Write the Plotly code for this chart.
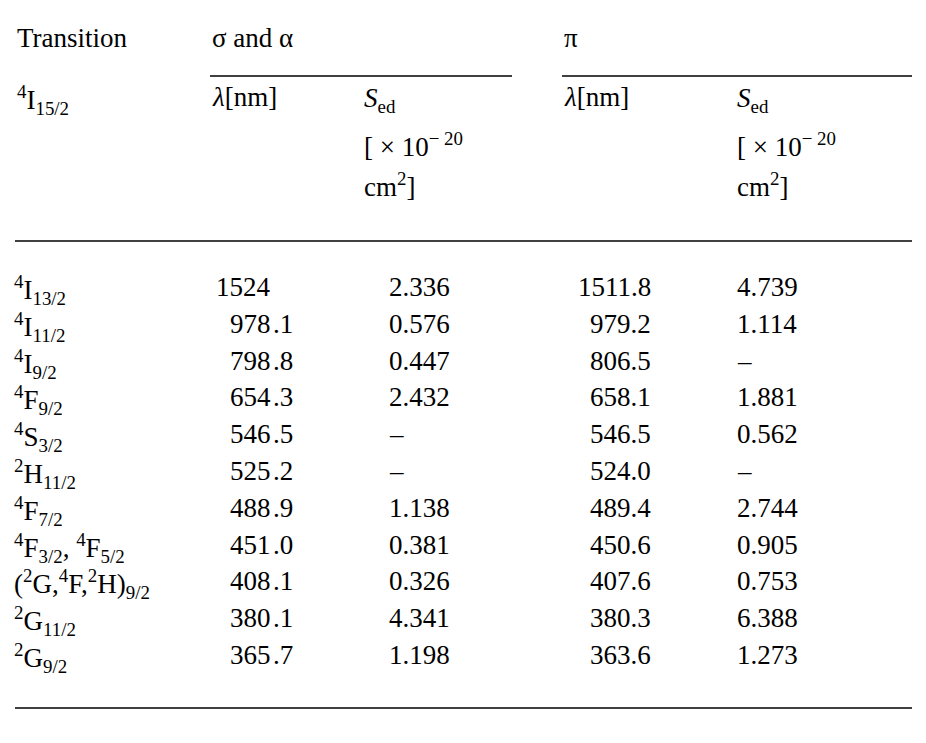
import plotly.graph_objects as go

transitions = [
    '<sup>4</sup>I<sub>13/2</sub>', '<sup>4</sup>I<sub>11/2</sub>', '<sup>4</sup>I<sub>9/2</sub>',
    '<sup>4</sup>F<sub>9/2</sub>', '<sup>4</sup>S<sub>3/2</sub>', '<sup>2</sup>H<sub>11/2</sub>',
    '<sup>4</sup>F<sub>7/2</sub>', '<sup>4</sup>F<sub>3/2</sub>, <sup>4</sup>F<sub>5/2</sub>',
    '(<sup>2</sup>G,<sup>4</sup>F,<sup>2</sup>H)<sub>9/2</sub>',
    '<sup>2</sup>G<sub>11/2</sub>', '<sup>2</sup>G<sub>9/2</sub>',
]
lam_sigma = ['1524', '978.1', '798.8', '654.3', '546.5', '525.2', '488.9', '451.0', '408.1', '380.1', '365.7']
sed_sigma = ['2.336', '0.576', '0.447', '2.432', '–', '–', '1.138', '0.381', '0.326', '4.341', '1.198']
lam_pi = ['1511.8', '979.2', '806.5', '658.1', '546.5', '524.0', '489.4', '450.6', '407.6', '380.3', '363.6']
sed_pi = ['4.739', '1.114', '–', '1.881', '0.562', '–', '2.744', '0.905', '0.753', '6.388', '1.273']

FONT = dict(family='Liberation Serif', size=27, color='black')
ann = []


def txt(x, y, s, anchor='left', **kw):
    ann.append(dict(x=x, y=y, text=s, xref='x', yref='y', showarrow=False,
                    xanchor=anchor, yanchor='middle', font=FONT, **kw))


# header
txt(15, 38, 'Transition')
txt(210, 38, 'σ and α')
txt(562, 38, 'π')
txt(15, 100, '<sup>4</sup>I<sub>15/2</sub>')
for x in (210, 562):
    txt(x, 97, '<i>λ</i>[nm]')
for x in (362, 735):
    txt(x, 100, '<i>S</i><sub>ed</sub>')
    txt(x, 145, '[ × 10<sup>− 20</sup>')
    txt(x, 185, 'cm<sup>2</sup>]')

# body
y0, dy = 287, 36.8
for i in range(len(transitions)):
    y = y0 + i * dy
    txt(12, y + 3, transitions[i])
    ip, _, fp = lam_sigma[i].partition('.')
    txt(273, y, ip, anchor='right')
    if fp:
        txt(271, y, '.' + fp)
    txt(387, y, sed_sigma[i])
    txt(653, y, lam_pi[i], anchor='right')
    txt(735, y, sed_pi[i])

lines = [(210, 512, 76), (562, 912, 76), (15, 912, 241), (15, 912, 708)]
shapes = [dict(type='line', xref='x', yref='y', x0=a, x1=b, y0=y, y1=y,
               line=dict(color='black', width=1.6)) for a, b, y in lines]

fig = go.Figure()
fig.update_layout(
    width=926, height=743, margin=dict(l=0, r=0, t=0, b=0),
    plot_bgcolor='white', paper_bgcolor='white',
    # page body has an 8px margin, shift the axes to compensate
    xaxis=dict(range=[8, 934], visible=False),
    yaxis=dict(range=[751, 8], visible=False),
    annotations=ann, shapes=shapes, showlegend=False,
)
fig.write_html('out.html')
